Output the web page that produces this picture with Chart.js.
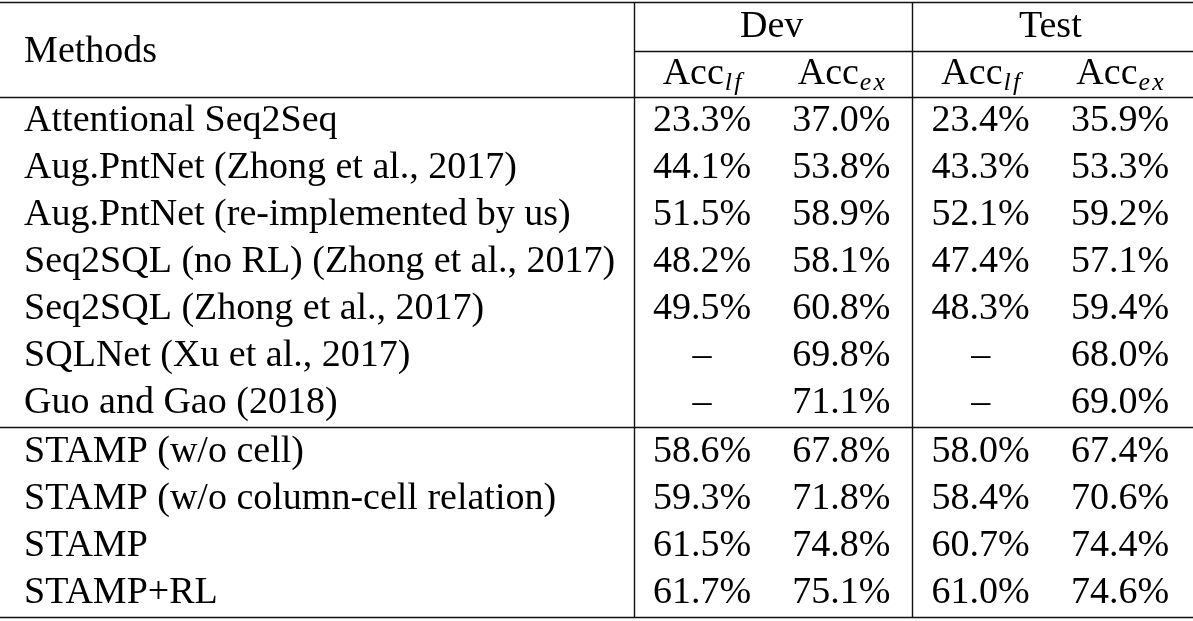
<!DOCTYPE html>
<html>
<head>
<meta charset="utf-8">
<script src="https://cdn.jsdelivr.net/npm/chart.js@4.4.1/dist/chart.umd.min.js"></script>
<style>
  html, body { margin: 0; padding: 0; background: #fff; }
  #wrap { width: 1193px; height: 621px; position: relative; }
</style>
</head>
<body>
<div id="wrap"><canvas id="tabla"></canvas></div>
<script>
const methods = [
  'Attentional Seq2Seq',
  'Aug.PntNet (Zhong et al., 2017)',
  'Aug.PntNet (re-implemented by us)',
  'Seq2SQL (no RL) (Zhong et al., 2017)',
  'Seq2SQL (Zhong et al., 2017)',
  'SQLNet (Xu et al., 2017)',
  'Guo and Gao (2018)',
  'STAMP (w/o cell)',
  'STAMP (w/o column-cell relation)',
  'STAMP',
  'STAMP+RL'
];
const groups = ['Dev', 'Test'];
const metricSubs = ['lf', 'ex', 'lf', 'ex'];
const devLf = [23.3, 44.1, 51.5, 48.2, 49.5, null, null, 58.6, 59.3, 61.5, 61.7];
const devEx = [37.0, 53.8, 58.9, 58.1, 60.8, 69.8, 71.1, 67.8, 71.8, 74.8, 75.1];
const testLf = [23.4, 43.3, 52.1, 47.4, 48.3, null, null, 58.0, 58.4, 60.7, 61.0];
const testEx = [35.9, 53.3, 59.2, 57.1, 59.4, 68.0, 69.0, 67.4, 70.6, 74.4, 74.6];

const FONT = '"Liberation Serif", "Times New Roman", "DejaVu Serif", serif';
const SIZE = 38;
const SUB = 26;

// row position on the y scale (second block sits a bit lower, under the rule)
function rowPos(i) {
  return i + (i >= 7 ? 0.06 : 0);
}

const columns = [devLf, devEx, testLf, testEx];
const datasets = columns.map((col, c) => ({
  label: 'c' + c,
  data: col.map((v, i) => ({ x: c, y: rowPos(i), v: v })),
  pointRadius: 0,
  pointHoverRadius: 0
}));

function txt(ctx, s, x, y, align, font) {
  ctx.font = font || (SIZE + 'px ' + FONT);
  ctx.textAlign = align;
  ctx.textBaseline = 'alphabetic';
  ctx.fillText(s, x, y + 12.5);
}

const tablePlugin = {
  id: 'tablePlugin',
  beforeDraw(chart) {
    const ctx = chart.ctx;
    ctx.save();
    ctx.fillStyle = '#fff';
    ctx.fillRect(0, 0, chart.width, chart.height);
    ctx.restore();
  },
  afterDatasetsDraw(chart) {
    const ctx = chart.ctx;
    const xs = chart.scales.x, ys = chart.scales.y;
    const X = v => xs.getPixelForValue(v);
    const Y = v => ys.getPixelForValue(v);
    ctx.save();
    ctx.fillStyle = '#000';

    // rules
    ctx.strokeStyle = '#111';
    ctx.lineWidth = 1.4;
    const hline = (r, a, b) => {
      ctx.beginPath();
      ctx.moveTo(a, Math.round(Y(r)) + 0.5);
      ctx.lineTo(b, Math.round(Y(r)) + 0.5);
      ctx.stroke();
    };
    const left = chart.chartArea.left, right = chart.chartArea.right;
    hline(-2.468, left, right);
    hline(-1.426, X(-0.488), right);
    hline(-0.447, left, right);
    hline(6.574, left, right);
    hline(10.617, left, right);
    [-0.488, 1.507].forEach(v => {
      ctx.beginPath();
      ctx.moveTo(Math.round(X(v)) + 0.5, Y(-2.468));
      ctx.lineTo(Math.round(X(v)) + 0.5, Y(10.617));
      ctx.stroke();
    });

    // header
    txt(ctx, 'Methods', X(-4.865), Y(-1.46), 'left');
    groups.forEach((g, k) => txt(ctx, g, X(k * 2 + 0.5), Y(-2), 'center'));
    metricSubs.forEach((s, c) => {
      const big = SIZE + 'px ' + FONT;
      const small = 'italic ' + SUB + 'px ' + FONT;
      ctx.font = big;
      const w1 = ctx.measureText('Acc').width;
      ctx.font = small;
      const w2 = ctx.measureText(s).width + 3;
      const x0 = X(c) - (w1 + w2) / 2;
      txt(ctx, 'Acc', x0, Y(-1), 'left', big);
      txt(ctx, s.split('').join('\u200A'), x0 + w1 + 1, Y(-1) + 6, 'left', small);
    });

    // method names
    methods.forEach((m, i) => txt(ctx, m, X(-4.865), Y(rowPos(i)), 'left'));

    // values
    chart.data.datasets.forEach((ds, d) => {
      const meta = chart.getDatasetMeta(d);
      meta.data.forEach((el, i) => {
        const v = ds.data[i].v;
        const s = v === null ? '\u2013' : v.toFixed(1) + '%';
        txt(ctx, s, el.x, el.y, 'center');
      });
    });
    ctx.restore();
  }
};

new Chart(document.getElementById('tabla'), {
  type: 'scatter',
  data: { datasets: datasets },
  options: {
    responsive: true,
    maintainAspectRatio: false,
    animation: false,
    layout: { padding: 0 },
    plugins: { legend: { display: false }, tooltip: { enabled: false } },
    scales: {
      x: { type: 'linear', display: false, min: -5.038, max: 3.524 },
      y: { type: 'linear', display: false, reverse: true, min: -2.511, max: 10.70 }
    }
  },
  plugins: [tablePlugin]
});
</script>
</body>
</html>
